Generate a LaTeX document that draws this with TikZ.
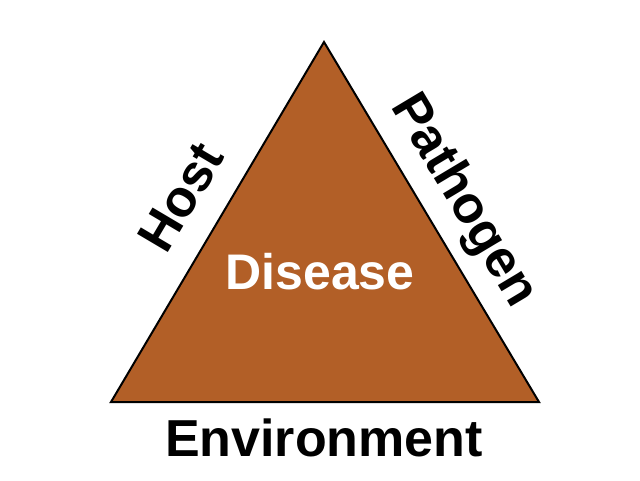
\documentclass[tikz,border=0pt]{standalone}
\usepackage{fontspec}
\setmainfont{Liberation Sans}
\definecolor{tribrown}{RGB}{178,95,39}
\begin{document}
\begin{tikzpicture}[x=1pt,y=1pt,
  lbl/.style={font=\fontsize{52}{52}\selectfont\bfseries, inner sep=0pt, text=black},
  tri/.style={fill=tribrown, draw=black, line width=2pt, line join=miter}]
\useasboundingbox (0,0) rectangle (640,480);
\coordinate (apex) at (324,438);
\coordinate (bl) at (111,78);
\coordinate (br) at (539,78);
\draw[tri] (apex) -- (bl) -- (br) -- cycle;
\node[lbl, text=white, font=\fontsize{50}{50}\selectfont\bfseries] (disease) at (320,208) {Disease};
\node[lbl, rotate=59.4] (host) at (181,283) {Host};
\node[lbl, rotate=-59.1] (pathogen) at (463,279) {Pathogen};
\node[lbl] (env) at (324,42) {Environment};
\end{tikzpicture}
\end{document}
